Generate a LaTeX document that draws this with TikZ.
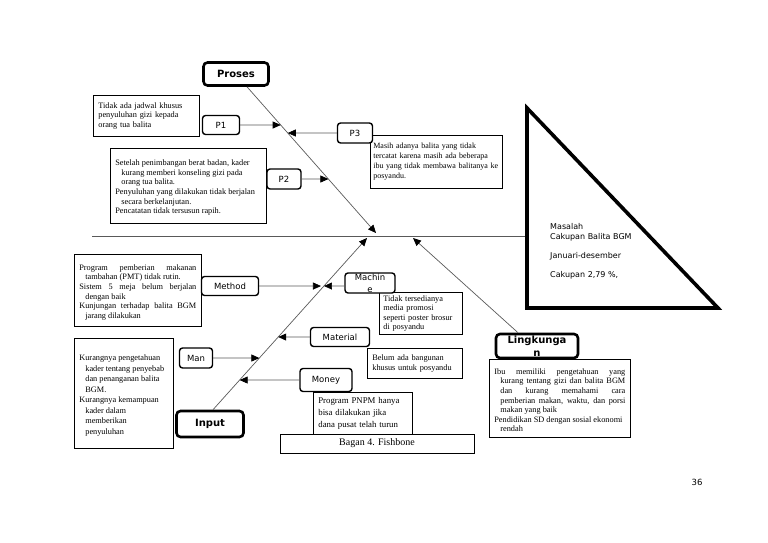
\documentclass[tikz,border=0pt]{standalone}
\usepackage{fontspec}
\setmainfont{Liberation Serif}
\setsansfont{DejaVu Sans}
\usetikzlibrary{arrows.meta}

\newcommand\hpar{\par\hangindent=6pt\hangafter=1\noindent}

\tikzset{
  box/.style={draw, fill=white, rounded corners=3pt, line width=1.4pt, inner sep=0pt,
    align=center, font=\sffamily\fontsize{8.5}{10}\selectfont},
  bighead/.style={box, line width=2.6pt, rounded corners=4pt,
    font=\sffamily\bfseries\fontsize{10}{12}\selectfont},
  note/.style={draw, fill=white, line width=0.7pt, anchor=north west, inner xsep=5pt,
    inner ysep=3pt, align=justify, font=\fontsize{8.3}{9.6}\selectfont},
  bone/.style={draw=black!65, line width=0.7pt,
    -{Triangle[length=8pt,width=7pt,color=black]}},
}

\begin{document}
\begin{tikzpicture}[x=1pt,y=-1pt]
\useasboundingbox (0,0) rectangle (768,543);

% spine and head
\coordinate (tail) at (92,236);
\coordinate (head) at (527,236);
\draw[black!65, line width=0.8pt] (tail) -- (head);
\draw[line width=3.6pt, line join=miter] (527,108) -- (527,308) -- (718,308) -- cycle;
\node[anchor=north west, align=left, inner sep=0pt,
  font=\sffamily\fontsize{8}{10}\selectfont] (masalah) at (550,223)
  {Masalah\\Cakupan Balita BGM\\[9pt]Januari-desember\\[9pt]Cakupan 2,79 \%,};

% Proses
\node[bighead, minimum width=65pt, minimum height=23pt] (proses) at (236,74) {Proses};
\coordinate (ptop) at ([xshift=11pt]proses.south);
\coordinate (ptip) at (376,233);
\draw[bone] (ptop) -- (ptip);

\node[note, text width=96pt, minimum height=41pt, align=left] (tn1) at (93,95)
  {Tidak ada jadwal khusus\newline penyuluhan gizi kepada\newline orang tua balita};
\node[box, minimum width=37pt, minimum height=19pt] (p1) at (221,125) {P1};
\draw[bone] (p1.east) -- (intersection of ptop--ptip and p1.east--p1.west);

\node[note, text width=146pt, minimum height=75pt] (tn2) at (110,148)
  {\hpar Setelah penimbangan berat badan, kader\newline kurang memberi konseling gizi pada\newline orang tua balita.
   \hpar Penyuluhan yang dilakukan tidak berjalan\newline secara berkelanjutan.
   \hpar Pencatatan tidak tersusun rapih.\par};
\node[box, minimum width=34pt, minimum height=20pt] (p2) at (284,179) {P2};
\draw[bone] (p2.east) -- (intersection of ptop--ptip and p2.east--p2.west);

\node[note, text width=126pt, inner xsep=3pt, minimum height=53pt, align=left,
  font=\fontsize{8}{10}\selectfont] (tn3) at (370,135)
  {Masih adanya balita yang tidak\newline tercatat karena masih ada beberapa\newline ibu yang tidak membawa balitanya ke\newline posyandu.};
\node[box, minimum width=35pt, minimum height=20pt] (p3) at (355,133) {P3};
\draw[bone] (p3.west) -- (intersection of ptop--ptip and p3.east--p3.west);

% Input
\node[bighead, minimum width=67pt, minimum height=26pt] (input) at (210,424) {Input};
\coordinate (itop) at ([xshift=3pt]input.north);
\coordinate (itip) at (367,238);
\draw[bone] (itop) -- (itip);

\node[note, text width=117pt, minimum height=72pt] (tmethod) at (74,254)
  {\hpar Program pemberian makanan\linebreak tambahan (PMT) tidak rutin.
   \hpar Sistem 5 meja belum berjalan\linebreak dengan baik
   \hpar Kunjungan terhadap balita BGM\linebreak jarang dilakukan\par};
\node[box, minimum width=57pt, minimum height=19pt] (method) at (230,286) {Method};
\draw[bone, shorten >=3pt] (method.east) -- (intersection of itop--itip and method.east--method.west);

\node[note, text width=75pt, inner xsep=4pt, minimum height=40pt, align=left] (tmachine) at (379,292)
  {Tidak tersedianya\newline media promosi\newline seperti poster brosur\newline di posyandu};
\node[box, minimum width=50pt, minimum height=20pt,
  font=\sffamily\fontsize{8.5}{12}\selectfont] (machine) at (370,283) {Machin\\e};
\draw[bone] (machine.west |- method.east) -- (intersection of itop--itip and method.east--method.west);

\node[note, text width=85pt, minimum height=30pt, align=left] (tmaterial) at (367,348)
  {Belum ada bangunan\newline khusus untuk posyandu};
\node[box, minimum width=59pt, minimum height=19pt] (material) at (340,337) {Material};
\draw[bone] (material.west) -- (intersection of itop--itip and material.east--material.west);

\node[note, text width=89pt, minimum height=110pt, font=\fontsize{8.3}{10.5}\selectfont] (tman) at (74,338)
  {\hpar Kurangnya pengetahuan\newline kader tentang penyebab\newline dan penanganan balita\newline BGM.
   \hpar Kurangnya kemampuan\newline kader dalam\newline memberikan\newline penyuluhan\par};
\node[box, minimum width=33pt, minimum height=20pt] (man) at (196,358) {Man};
\draw[bone] (man.east) -- (intersection of itop--itip and man.east--man.west);

\node[note, text width=89pt, minimum height=43pt, align=left,
  font=\fontsize{8.8}{12}\selectfont] (tmoney) at (313,392)
  {Program PNPM hanya\newline bisa dilakukan jika\newline dana pusat telah turun};
\node[box, minimum width=52pt, minimum height=23pt] (money) at (326,380) {Money};
\draw[bone] (money.west) -- (intersection of itop--itip and money.east--money.west);

% Lingkungan
\node[note, text width=131pt, minimum height=78pt] (tlingk) at (489,359)
  {\hpar Ibu memiliki pengetahuan yang\linebreak kurang tentang gizi dan balita BGM\linebreak dan kurang memahami cara\linebreak pemberian makan, waktu, dan porsi\linebreak makan yang baik
   \hpar Pendidikan SD dengan sosial ekonomi\newline rendah\par};
\node[bighead, minimum width=82pt, minimum height=24pt,
  font=\sffamily\bfseries\fontsize{10}{13}\selectfont] (lingk) at (537,346) {Lingkunga\\n};
\coordinate (ltop) at ([xshift=-19pt]lingk.north);
\coordinate (ltip) at (413,238);
\draw[bone] (ltop) -- (ltip);

% caption and page
\node[draw, fill=white, line width=0.7pt, minimum width=194pt, minimum height=19pt,
  font=\fontsize{10}{12}\selectfont] (caption) at (377,443.5) {Bagan 4. Fishbone};
\node[font=\sffamily\fontsize{8.5}{10}\selectfont] (pagenum) at (697,482) {36};
\end{tikzpicture}
\end{document}
